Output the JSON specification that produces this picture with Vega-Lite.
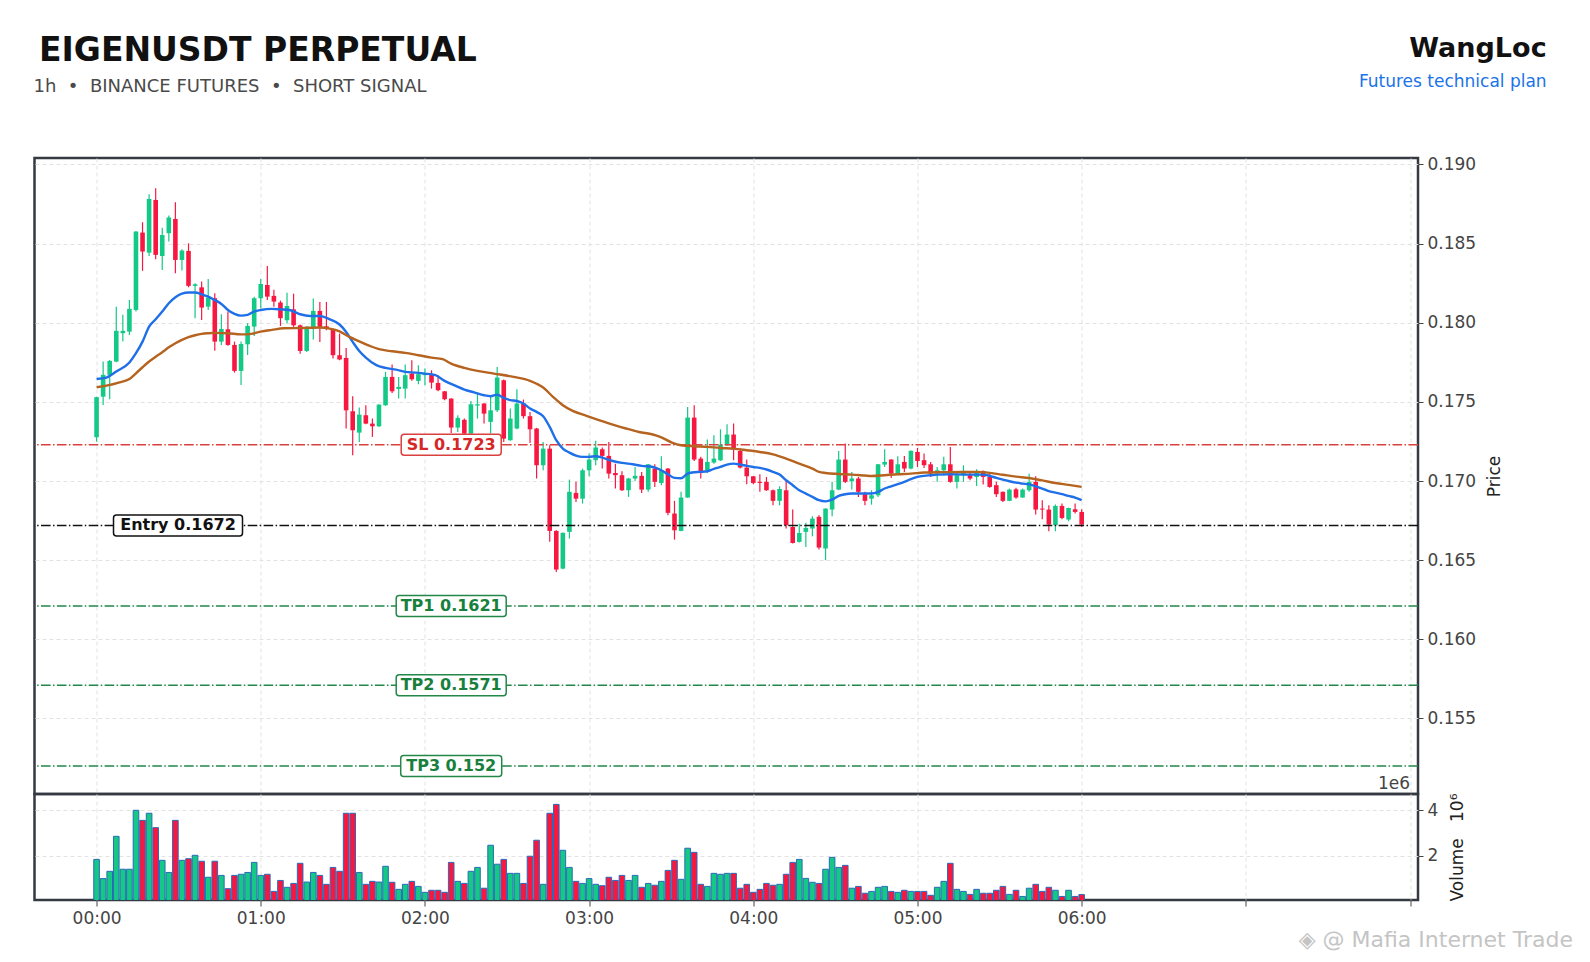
{
  "$schema": "https://vega.github.io/schema/vega-lite/v6.json",
  "background": "white",
  "padding": {"left": 31.5, "top": 33, "right": 5, "bottom": 5},
  "spacing": 0,
  "bounds": "flush",
  "config": {
    "font": "DejaVu Sans",
    "view": {"stroke": "#353a42", "strokeWidth": 2.5},
    "axis": {
      "domain": false,
      "labelFont": "DejaVu Sans",
      "labelFontSize": 17,
      "labelColor": "#444444",
      "titleFont": "DejaVu Sans",
      "titleFontSize": 17,
      "titleFontWeight": "normal",
      "titleColor": "#222222",
      "gridColor": "#e2e2e2",
      "gridDash": [4, 3],
      "tickColor": "#444444",
      "tickWidth": 1
    },
    "text": {"font": "DejaVu Sans"}
  },
  "datasets": {
    "candles": [
      {"i":0,"open":0.17277,"high":0.17533,"low":0.17249,"close":0.1753,"volume":1850000},
      {"i":1,"open":0.17533,"high":0.17755,"low":0.17481,"close":0.17671,"volume":1010000},
      {"i":2,"open":0.17671,"high":0.17765,"low":0.17517,"close":0.17759,"volume":1330000},
      {"i":3,"open":0.17755,"high":0.18102,"low":0.1775,"close":0.17949,"volume":2860000},
      {"i":4,"open":0.17934,"high":0.1805,"low":0.17881,"close":0.17949,"volume":1420000},
      {"i":5,"open":0.17944,"high":0.18144,"low":0.17923,"close":0.18088,"volume":1420000},
      {"i":6,"open":0.18081,"high":0.1858,"low":0.18071,"close":0.18576,"volume":4000000},
      {"i":7,"open":0.1857,"high":0.18635,"low":0.18328,"close":0.1845,"volume":3560000},
      {"i":8,"open":0.18443,"high":0.18812,"low":0.18422,"close":0.18782,"volume":3870000},
      {"i":9,"open":0.18776,"high":0.1885,"low":0.18401,"close":0.18429,"volume":3240000},
      {"i":10,"open":0.18422,"high":0.18601,"low":0.18334,"close":0.18555,"volume":1810000},
      {"i":11,"open":0.18566,"high":0.18677,"low":0.18513,"close":0.18665,"volume":1280000},
      {"i":12,"open":0.18656,"high":0.18761,"low":0.18313,"close":0.18397,"volume":3560000},
      {"i":13,"open":0.18397,"high":0.18464,"low":0.1833,"close":0.18456,"volume":1810000},
      {"i":14,"open":0.18454,"high":0.18502,"low":0.18224,"close":0.18233,"volume":1880000},
      {"i":15,"open":0.18233,"high":0.18249,"low":0.18029,"close":0.18243,"volume":2030000},
      {"i":16,"open":0.18224,"high":0.1826,"low":0.18018,"close":0.18096,"volume":1770000},
      {"i":17,"open":0.18102,"high":0.18277,"low":0.18081,"close":0.18159,"volume":1070000},
      {"i":18,"open":0.18155,"high":0.18187,"low":0.17824,"close":0.17881,"volume":1770000},
      {"i":19,"open":0.17881,"high":0.18054,"low":0.1786,"close":0.17961,"volume":1150000},
      {"i":20,"open":0.17959,"high":0.18071,"low":0.17855,"close":0.1786,"volume":570000},
      {"i":21,"open":0.1786,"high":0.17881,"low":0.17685,"close":0.17696,"volume":1150000},
      {"i":22,"open":0.17696,"high":0.17881,"low":0.17607,"close":0.17866,"volume":1200000},
      {"i":23,"open":0.17864,"high":0.17997,"low":0.17797,"close":0.1798,"volume":1280000},
      {"i":24,"open":0.17976,"high":0.18165,"low":0.17917,"close":0.18155,"volume":1720000},
      {"i":25,"open":0.18155,"high":0.18277,"low":0.18092,"close":0.18245,"volume":1150000},
      {"i":26,"open":0.18239,"high":0.18359,"low":0.18144,"close":0.18165,"volume":1200000},
      {"i":27,"open":0.1817,"high":0.18208,"low":0.18102,"close":0.18134,"volume":450000},
      {"i":28,"open":0.18128,"high":0.1814,"low":0.1798,"close":0.18029,"volume":930000},
      {"i":29,"open":0.18016,"high":0.18189,"low":0.17995,"close":0.18106,"volume":630000},
      {"i":30,"open":0.18085,"high":0.18184,"low":0.17974,"close":0.17984,"volume":800000},
      {"i":31,"open":0.17984,"high":0.17989,"low":0.17805,"close":0.17822,"volume":1680000},
      {"i":32,"open":0.17822,"high":0.17978,"low":0.17816,"close":0.17974,"volume":860000},
      {"i":33,"open":0.17974,"high":0.18153,"low":0.17894,"close":0.18075,"volume":1280000},
      {"i":34,"open":0.18075,"high":0.18132,"low":0.17879,"close":0.17974,"volume":1150000},
      {"i":35,"open":0.17978,"high":0.18132,"low":0.17953,"close":0.17963,"volume":760000},
      {"i":36,"open":0.17957,"high":0.17963,"low":0.17774,"close":0.17795,"volume":1500000},
      {"i":37,"open":0.17795,"high":0.17932,"low":0.17763,"close":0.17768,"volume":1330000},
      {"i":38,"open":0.17778,"high":0.17841,"low":0.17332,"close":0.17447,"volume":3870000},
      {"i":39,"open":0.17441,"high":0.17536,"low":0.17163,"close":0.17321,"volume":3870000},
      {"i":40,"open":0.17306,"high":0.17464,"low":0.17247,"close":0.1742,"volume":1280000},
      {"i":41,"open":0.17416,"high":0.17479,"low":0.17359,"close":0.17363,"volume":760000},
      {"i":42,"open":0.17363,"high":0.17395,"low":0.17279,"close":0.17346,"volume":890000},
      {"i":43,"open":0.17346,"high":0.17485,"low":0.17342,"close":0.17483,"volume":860000},
      {"i":44,"open":0.17479,"high":0.1769,"low":0.17475,"close":0.17658,"volume":1550000},
      {"i":45,"open":0.17658,"high":0.17736,"low":0.17557,"close":0.17567,"volume":850000},
      {"i":46,"open":0.17582,"high":0.17658,"low":0.17521,"close":0.17595,"volume":540000},
      {"i":47,"open":0.17584,"high":0.17736,"low":0.17521,"close":0.17669,"volume":760000},
      {"i":48,"open":0.17679,"high":0.17763,"low":0.17633,"close":0.17643,"volume":890000},
      {"i":49,"open":0.17633,"high":0.17731,"low":0.17612,"close":0.17675,"volume":670000},
      {"i":50,"open":0.17669,"high":0.17711,"low":0.17605,"close":0.17677,"volume":410000},
      {"i":51,"open":0.17673,"high":0.177,"low":0.17584,"close":0.17622,"volume":500000},
      {"i":52,"open":0.1762,"high":0.17669,"low":0.17567,"close":0.17574,"volume":500000},
      {"i":53,"open":0.17567,"high":0.17569,"low":0.1751,"close":0.17517,"volume":410000},
      {"i":54,"open":0.17521,"high":0.17523,"low":0.17304,"close":0.17338,"volume":1720000},
      {"i":55,"open":0.17338,"high":0.17416,"low":0.1731,"close":0.17399,"volume":890000},
      {"i":56,"open":0.17387,"high":0.17395,"low":0.1726,"close":0.173,"volume":800000},
      {"i":57,"open":0.173,"high":0.17506,"low":0.1726,"close":0.17485,"volume":1330000},
      {"i":58,"open":0.17477,"high":0.17553,"low":0.17395,"close":0.17485,"volume":1500000},
      {"i":59,"open":0.1749,"high":0.17492,"low":0.17363,"close":0.17426,"volume":590000},
      {"i":60,"open":0.17374,"high":0.17532,"low":0.173,"close":0.17447,"volume":2470000},
      {"i":61,"open":0.17447,"high":0.17721,"low":0.17437,"close":0.17654,"volume":1640000},
      {"i":62,"open":0.17637,"high":0.17641,"low":0.17247,"close":0.17268,"volume":1850000},
      {"i":63,"open":0.17258,"high":0.17458,"low":0.17254,"close":0.17395,"volume":1240000},
      {"i":64,"open":0.17332,"high":0.1758,"low":0.17327,"close":0.1749,"volume":1240000},
      {"i":65,"open":0.1749,"high":0.17515,"low":0.17395,"close":0.1741,"volume":800000},
      {"i":66,"open":0.1741,"high":0.17437,"low":0.17241,"close":0.17327,"volume":1990000},
      {"i":67,"open":0.17332,"high":0.17336,"low":0.17016,"close":0.171,"volume":2690000},
      {"i":68,"open":0.171,"high":0.17247,"low":0.17068,"close":0.17205,"volume":760000},
      {"i":69,"open":0.17205,"high":0.17226,"low":0.16616,"close":0.16685,"volume":3870000},
      {"i":70,"open":0.16685,"high":0.16689,"low":0.16426,"close":0.16441,"volume":4260000},
      {"i":71,"open":0.16447,"high":0.16675,"low":0.16443,"close":0.16673,"volume":2250000},
      {"i":72,"open":0.16679,"high":0.17009,"low":0.16637,"close":0.16932,"volume":1500000},
      {"i":73,"open":0.16925,"high":0.16995,"low":0.16868,"close":0.16889,"volume":890000},
      {"i":74,"open":0.16889,"high":0.17079,"low":0.16858,"close":0.17068,"volume":800000},
      {"i":75,"open":0.17068,"high":0.17174,"low":0.1703,"close":0.17136,"volume":1010000},
      {"i":76,"open":0.17132,"high":0.17254,"low":0.171,"close":0.17212,"volume":760000},
      {"i":77,"open":0.17201,"high":0.17212,"low":0.17079,"close":0.17159,"volume":700000},
      {"i":78,"open":0.17159,"high":0.17247,"low":0.17016,"close":0.17047,"volume":1070000},
      {"i":79,"open":0.17051,"high":0.1711,"low":0.16953,"close":0.17037,"volume":930000},
      {"i":80,"open":0.17037,"high":0.17062,"low":0.16937,"close":0.16942,"volume":1150000},
      {"i":81,"open":0.16942,"high":0.1702,"low":0.169,"close":0.17016,"volume":930000},
      {"i":82,"open":0.17016,"high":0.17089,"low":0.17001,"close":0.17033,"volume":1150000},
      {"i":83,"open":0.17033,"high":0.17058,"low":0.16925,"close":0.16946,"volume":630000},
      {"i":84,"open":0.16946,"high":0.17108,"low":0.16932,"close":0.17106,"volume":800000},
      {"i":85,"open":0.17079,"high":0.17106,"low":0.16963,"close":0.16995,"volume":720000},
      {"i":86,"open":0.16988,"high":0.17157,"low":0.16974,"close":0.17068,"volume":890000},
      {"i":87,"open":0.17079,"high":0.17083,"low":0.16784,"close":0.16799,"volume":1370000},
      {"i":88,"open":0.16795,"high":0.16875,"low":0.1663,"close":0.16689,"volume":1810000},
      {"i":89,"open":0.16685,"high":0.16932,"low":0.16683,"close":0.16896,"volume":980000},
      {"i":90,"open":0.16896,"high":0.17468,"low":0.16894,"close":0.17401,"volume":2340000},
      {"i":91,"open":0.17401,"high":0.17479,"low":0.17127,"close":0.17136,"volume":2160000},
      {"i":92,"open":0.17142,"high":0.17153,"low":0.17016,"close":0.17058,"volume":760000},
      {"i":93,"open":0.17068,"high":0.17262,"low":0.17051,"close":0.17121,"volume":670000},
      {"i":94,"open":0.17117,"high":0.17289,"low":0.1711,"close":0.17142,"volume":1240000},
      {"i":95,"open":0.17131,"high":0.17327,"low":0.17127,"close":0.1723,"volume":1200000},
      {"i":96,"open":0.17226,"high":0.17359,"low":0.17224,"close":0.17294,"volume":1240000},
      {"i":97,"open":0.17294,"high":0.17363,"low":0.17131,"close":0.17199,"volume":1240000},
      {"i":98,"open":0.1719,"high":0.17205,"low":0.17079,"close":0.17085,"volume":590000},
      {"i":99,"open":0.17085,"high":0.17136,"low":0.1698,"close":0.1703,"volume":760000},
      {"i":100,"open":0.1703,"high":0.17032,"low":0.1698,"close":0.16988,"volume":410000},
      {"i":101,"open":0.16995,"high":0.17043,"low":0.16932,"close":0.16988,"volume":540000},
      {"i":102,"open":0.16995,"high":0.17026,"low":0.16938,"close":0.16942,"volume":800000},
      {"i":103,"open":0.16942,"high":0.16946,"low":0.16847,"close":0.16875,"volume":720000},
      {"i":104,"open":0.16875,"high":0.16967,"low":0.16847,"close":0.1695,"volume":760000},
      {"i":105,"open":0.16942,"high":0.17003,"low":0.167,"close":0.16721,"volume":1200000},
      {"i":106,"open":0.1671,"high":0.1682,"low":0.16605,"close":0.16609,"volume":1720000},
      {"i":107,"open":0.16616,"high":0.16731,"low":0.16612,"close":0.16672,"volume":1850000},
      {"i":108,"open":0.16679,"high":0.16736,"low":0.16584,"close":0.16704,"volume":1020000},
      {"i":109,"open":0.167,"high":0.16778,"low":0.16651,"close":0.16763,"volume":850000},
      {"i":110,"open":0.16774,"high":0.16784,"low":0.16567,"close":0.1658,"volume":800000},
      {"i":111,"open":0.16574,"high":0.16828,"low":0.165,"close":0.16826,"volume":1420000},
      {"i":112,"open":0.1682,"high":0.16995,"low":0.16778,"close":0.16942,"volume":1940000},
      {"i":113,"open":0.16946,"high":0.1719,"low":0.16942,"close":0.17136,"volume":1500000},
      {"i":114,"open":0.17136,"high":0.17237,"low":0.16988,"close":0.16995,"volume":1590000},
      {"i":115,"open":0.16999,"high":0.17058,"low":0.16946,"close":0.17016,"volume":590000},
      {"i":116,"open":0.17016,"high":0.17026,"low":0.169,"close":0.16932,"volume":670000},
      {"i":117,"open":0.16917,"high":0.16932,"low":0.16847,"close":0.16875,"volume":370000},
      {"i":118,"open":0.16889,"high":0.16942,"low":0.16851,"close":0.1691,"volume":450000},
      {"i":119,"open":0.1691,"high":0.17108,"low":0.169,"close":0.17106,"volume":630000},
      {"i":120,"open":0.17104,"high":0.17201,"low":0.17089,"close":0.17121,"volume":670000},
      {"i":121,"open":0.17136,"high":0.17138,"low":0.1702,"close":0.17047,"volume":450000},
      {"i":122,"open":0.17047,"high":0.17157,"low":0.17037,"close":0.17106,"volume":410000},
      {"i":123,"open":0.17121,"high":0.17159,"low":0.17058,"close":0.17079,"volume":500000},
      {"i":124,"open":0.17079,"high":0.17193,"low":0.17075,"close":0.17191,"volume":450000},
      {"i":125,"open":0.17184,"high":0.17209,"low":0.17089,"close":0.17127,"volume":450000},
      {"i":126,"open":0.17132,"high":0.17174,"low":0.17083,"close":0.171,"volume":450000},
      {"i":127,"open":0.17106,"high":0.17121,"low":0.17026,"close":0.17047,"volume":280000},
      {"i":128,"open":0.17047,"high":0.17089,"low":0.16995,"close":0.17068,"volume":630000},
      {"i":129,"open":0.17068,"high":0.17153,"low":0.17037,"close":0.17106,"volume":890000},
      {"i":130,"open":0.17106,"high":0.17216,"low":0.1699,"close":0.16995,"volume":1680000},
      {"i":131,"open":0.16995,"high":0.17054,"low":0.16953,"close":0.17037,"volume":540000},
      {"i":132,"open":0.17037,"high":0.171,"low":0.16995,"close":0.17064,"volume":450000},
      {"i":133,"open":0.17037,"high":0.17058,"low":0.17005,"close":0.17016,"volume":320000},
      {"i":134,"open":0.17026,"high":0.17075,"low":0.16969,"close":0.17064,"volume":540000},
      {"i":135,"open":0.17064,"high":0.17066,"low":0.16978,"close":0.17026,"volume":370000},
      {"i":136,"open":0.17026,"high":0.17058,"low":0.16957,"close":0.16963,"volume":370000},
      {"i":137,"open":0.16974,"high":0.16995,"low":0.169,"close":0.16917,"volume":500000},
      {"i":138,"open":0.16932,"high":0.16934,"low":0.16868,"close":0.16875,"volume":670000},
      {"i":139,"open":0.16875,"high":0.16953,"low":0.16873,"close":0.16946,"volume":320000},
      {"i":140,"open":0.16948,"high":0.16957,"low":0.16889,"close":0.16896,"volume":500000},
      {"i":141,"open":0.16896,"high":0.16953,"low":0.16894,"close":0.16946,"volume":230000},
      {"i":142,"open":0.16942,"high":0.17047,"low":0.16932,"close":0.16995,"volume":590000},
      {"i":143,"open":0.16995,"high":0.1703,"low":0.16788,"close":0.1682,"volume":760000},
      {"i":144,"open":0.16826,"high":0.16879,"low":0.16759,"close":0.1682,"volume":450000},
      {"i":145,"open":0.1682,"high":0.16847,"low":0.16683,"close":0.16725,"volume":630000},
      {"i":146,"open":0.16721,"high":0.16852,"low":0.16683,"close":0.16843,"volume":500000},
      {"i":147,"open":0.16843,"high":0.16858,"low":0.16759,"close":0.16767,"volume":230000},
      {"i":148,"open":0.16757,"high":0.16832,"low":0.16746,"close":0.1683,"volume":500000},
      {"i":149,"open":0.16822,"high":0.16858,"low":0.16795,"close":0.16805,"volume":230000},
      {"i":150,"open":0.16805,"high":0.16822,"low":0.1671,"close":0.16725,"volume":310000}
    ],
    "fast": [
      {"i":0,"ma":0.17645},{"i":1.5,"ma":0.17654},{"i":3,"ma":0.17692},{"i":5,"ma":0.17749},{"i":6,"ma":0.17808},
      {"i":7,"ma":0.17881},{"i":8,"ma":0.17976},{"i":9,"ma":0.18022},{"i":10,"ma":0.18071},{"i":11,"ma":0.18123},
      {"i":12,"ma":0.18161},{"i":13,"ma":0.18184},{"i":14,"ma":0.18191},{"i":15,"ma":0.18191},{"i":16,"ma":0.1818},
      {"i":17,"ma":0.18165},{"i":18,"ma":0.18144},{"i":19,"ma":0.18119},{"i":20,"ma":0.18081},{"i":21,"ma":0.18056},
      {"i":22,"ma":0.18045},{"i":23,"ma":0.1805},{"i":24,"ma":0.18071},{"i":25,"ma":0.18081},{"i":26.7,"ma":0.18088},
      {"i":28,"ma":0.18085},{"i":29.5,"ma":0.18079},{"i":31,"ma":0.18054},{"i":32.5,"ma":0.18043},{"i":34,"ma":0.18043},
      {"i":35.5,"ma":0.18022},{"i":37,"ma":0.17989},{"i":38,"ma":0.17942},{"i":39,"ma":0.17879},{"i":40,"ma":0.17822},
      {"i":41,"ma":0.1778},{"i":42.6,"ma":0.17732},{"i":44,"ma":0.17715},{"i":45.6,"ma":0.17704},{"i":47,"ma":0.1769},
      {"i":48.6,"ma":0.17685},{"i":50,"ma":0.17679},{"i":51.6,"ma":0.17669},{"i":53,"ma":0.17633},{"i":54.7,"ma":0.17601},
      {"i":56,"ma":0.17578},{"i":57.5,"ma":0.1756},{"i":59,"ma":0.17542},{"i":60,"ma":0.17536},{"i":61,"ma":0.17546},
      {"i":62,"ma":0.17525},{"i":63,"ma":0.17511},{"i":64,"ma":0.17506},{"i":65,"ma":0.1749},{"i":66,"ma":0.17458},
      {"i":67,"ma":0.17437},{"i":68,"ma":0.1741},{"i":69,"ma":0.17342},{"i":70,"ma":0.17258},{"i":71,"ma":0.17205},
      {"i":72,"ma":0.1718},{"i":73,"ma":0.17161},{"i":74,"ma":0.17153},{"i":75,"ma":0.17153},{"i":76,"ma":0.17157},
      {"i":77,"ma":0.17148},{"i":78.6,"ma":0.17127},{"i":80,"ma":0.17115},{"i":81.6,"ma":0.17106},{"i":83,"ma":0.17096},
      {"i":84.7,"ma":0.17089},{"i":86,"ma":0.17068},{"i":87,"ma":0.17043},{"i":88,"ma":0.1702},{"i":89,"ma":0.17018},
      {"i":90,"ma":0.17047},{"i":91,"ma":0.17056},{"i":92,"ma":0.17058},{"i":93,"ma":0.17062},{"i":94,"ma":0.17077},
      {"i":95,"ma":0.17089},{"i":96,"ma":0.17104},{"i":97,"ma":0.1711},{"i":98,"ma":0.17104},{"i":99,"ma":0.17096},
      {"i":100,"ma":0.17089},{"i":101,"ma":0.17083},{"i":102,"ma":0.17073},{"i":103,"ma":0.17058},{"i":104,"ma":0.17041},
      {"i":105,"ma":0.17005},{"i":106,"ma":0.16974},{"i":107,"ma":0.16942},{"i":108,"ma":0.16921},{"i":109,"ma":0.169},
      {"i":110,"ma":0.16879},{"i":111,"ma":0.16872},{"i":112,"ma":0.16883},{"i":113,"ma":0.16906},{"i":114,"ma":0.16917},
      {"i":115,"ma":0.16921},{"i":117,"ma":0.16921},{"i":118,"ma":0.16921},{"i":119,"ma":0.16931},{"i":120,"ma":0.16953},
      {"i":121,"ma":0.16967},{"i":122,"ma":0.1698},{"i":123,"ma":0.16995},{"i":124,"ma":0.17012},{"i":125,"ma":0.17026},
      {"i":126,"ma":0.17033},{"i":127,"ma":0.17037},{"i":128,"ma":0.17041},{"i":130,"ma":0.17043},{"i":132,"ma":0.17041},
      {"i":135,"ma":0.17041},{"i":136,"ma":0.17033},{"i":137,"ma":0.1702},{"i":138,"ma":0.17009},{"i":139,"ma":0.16999},
      {"i":140,"ma":0.1699},{"i":141,"ma":0.16984},{"i":142,"ma":0.16979},{"i":143,"ma":0.16967},{"i":144,"ma":0.16953},
      {"i":145,"ma":0.16936},{"i":146,"ma":0.16927},{"i":147,"ma":0.16917},{"i":148,"ma":0.16906},{"i":149,"ma":0.16896},
      {"i":150,"ma":0.16879}
    ],
    "slow": [
      {"i":0,"ma":0.17593},{"i":1.5,"ma":0.17603},{"i":3.5,"ma":0.17624},{"i":5,"ma":0.17645},{"i":6,"ma":0.17681},
      {"i":7,"ma":0.17719},{"i":8,"ma":0.17755},{"i":9,"ma":0.17786},{"i":10,"ma":0.17814},{"i":11,"ma":0.17845},
      {"i":12,"ma":0.17871},{"i":13,"ma":0.17892},{"i":14,"ma":0.17909},{"i":15,"ma":0.17921},{"i":16,"ma":0.1793},
      {"i":17,"ma":0.17934},{"i":18,"ma":0.17936},{"i":20,"ma":0.17934},{"i":22,"ma":0.17927},{"i":23,"ma":0.17927},
      {"i":24,"ma":0.17934},{"i":25,"ma":0.17944},{"i":26.7,"ma":0.17955},{"i":28.5,"ma":0.17965},{"i":31,"ma":0.17967},
      {"i":34,"ma":0.1797},{"i":35.5,"ma":0.17963},{"i":37,"ma":0.17946},{"i":38.5,"ma":0.17911},{"i":40,"ma":0.17883},
      {"i":41.6,"ma":0.17854},{"i":43,"ma":0.17833},{"i":45,"ma":0.1782},{"i":47,"ma":0.1781},{"i":49,"ma":0.17795},
      {"i":51,"ma":0.1778},{"i":52.7,"ma":0.1777},{"i":54,"ma":0.17742},{"i":56,"ma":0.17715},{"i":58,"ma":0.17696},
      {"i":60.5,"ma":0.17679},{"i":63.5,"ma":0.17658},{"i":66,"ma":0.17633},{"i":68,"ma":0.17591},{"i":69.5,"ma":0.17532},
      {"i":71,"ma":0.17479},{"i":72.5,"ma":0.17443},{"i":74.6,"ma":0.17412},{"i":76.6,"ma":0.17384},{"i":78.6,"ma":0.17357},
      {"i":80.6,"ma":0.17332},{"i":82.6,"ma":0.1731},{"i":84.7,"ma":0.17294},{"i":86,"ma":0.17276},{"i":87.6,"ma":0.17243},
      {"i":89,"ma":0.17226},{"i":91,"ma":0.1722},{"i":93,"ma":0.17216},{"i":95,"ma":0.17209},{"i":97,"ma":0.17205},
      {"i":99,"ma":0.17195},{"i":101,"ma":0.17184},{"i":103,"ma":0.17169},{"i":105,"ma":0.17142},{"i":107,"ma":0.1711},
      {"i":109,"ma":0.17079},{"i":110,"ma":0.17058},{"i":111,"ma":0.17051},{"i":113,"ma":0.17045},{"i":115,"ma":0.17041},
      {"i":117,"ma":0.17035},{"i":118,"ma":0.17032},{"i":120,"ma":0.17037},{"i":122,"ma":0.17043},{"i":124,"ma":0.17047},
      {"i":126,"ma":0.17054},{"i":128,"ma":0.17056},{"i":132,"ma":0.17057},{"i":134,"ma":0.17058},{"i":136,"ma":0.17052},
      {"i":138,"ma":0.1704},{"i":140,"ma":0.17028},{"i":142,"ma":0.17019},{"i":144,"ma":0.17004},{"i":146,"ma":0.16988},
      {"i":148,"ma":0.16976},{"i":150,"ma":0.16963}
    ],
    "levels": [
      {"name":"SL","label":"SL 0.1723","price":0.1723},
      {"name":"Entry","label":"Entry 0.1672","price":0.1672},
      {"name":"TP1","label":"TP1 0.1621","price":0.1621},
      {"name":"TP2","label":"TP2 0.1571","price":0.1571},
      {"name":"TP3","label":"TP3 0.152","price":0.152}
    ]
  },
  "vconcat": [
    {
      "width": 1383.5,
      "height": 636,
      "layer": [
        {
          "data": {"name": "candles"},
          "mark": {"type": "rule", "strokeWidth": 1.2},
          "encoding": {
            "x": {"field": "i", "type": "quantitative", "title": null,
                  "scale": {"domain": [-8.69, 200.45], "nice": false, "zero": false},
                  "axis": {"orient": "bottom", "values": [0,25,50,75,100,125,150,175,200], "labels": false, "ticks": false, "grid": true}},
            "y": {"field": "low", "type": "quantitative", "title": "Price",
                  "scale": {"domain": [0.15023, 0.19041], "nice": false, "zero": false},
                  "axis": {"orient": "right", "values": [0.155,0.16,0.165,0.17,0.175,0.18,0.185,0.19], "format": ".3f",
                           "tickSize": 5, "labelPadding": 4, "grid": true, "titleAngle": 270, "titleBaseline": "top", "titlePadding": 11}},
            "y2": {"field": "high"},
            "color": {"condition": {"test": "datum.close >= datum.open", "value": "#14c886"}, "value": "#f71842"}
          }
        },
        {
          "data": {"name": "candles"},
          "mark": {"type": "bar", "width": 4.6},
          "encoding": {
            "x": {"field": "i", "type": "quantitative", "title": null},
            "y": {"field": "open", "type": "quantitative", "title": "Price"},
            "y2": {"field": "close"},
            "color": {"condition": {"test": "datum.close >= datum.open", "value": "#14c886"}, "value": "#f71842"}
          }
        },
        {
          "data": {"name": "levels"},
          "mark": {"type": "rule", "strokeWidth": 1.5, "strokeDash": [9.6, 2.4, 1.5, 2.4]},
          "encoding": {
            "y": {"field": "price", "type": "quantitative", "title": "Price"},
            "color": {"condition": [
              {"test": "datum.name == 'SL'", "value": "#d9413e"},
              {"test": "datum.name == 'Entry'", "value": "#111111"}
            ], "value": "#23874a"}
          }
        },
        {
          "data": {"name": "fast"},
          "mark": {"type": "line", "strokeWidth": 2.4, "color": "#1f6fe8", "interpolate": "monotone"},
          "encoding": {
            "x": {"field": "i", "type": "quantitative", "title": null},
            "y": {"field": "ma", "type": "quantitative", "title": "Price"}
          }
        },
        {
          "data": {"name": "slow"},
          "mark": {"type": "line", "strokeWidth": 2.4, "color": "#b5631f", "interpolate": "monotone"},
          "encoding": {
            "x": {"field": "i", "type": "quantitative", "title": null},
            "y": {"field": "ma", "type": "quantitative", "title": "Price"}
          }
        },
        {
          "data": {"name": "levels"},
          "transform": [{"filter": "datum.name == 'Entry'"}],
          "mark": {"type": "point", "size": 10000, "fill": "white", "fillOpacity": 1, "opacity": 1, "strokeWidth": 1.5,
                   "shape": "M-1.23,-0.21L1.23,-0.21Q1.29,-0.21,1.29,-0.15L1.29,0.15Q1.29,0.21,1.23,0.21L-1.23,0.21Q-1.29,0.21,-1.29,0.15L-1.29,-0.15Q-1.29,-0.21,-1.23,-0.21Z"},
          "encoding": {
            "x": {"datum": 12.4},
            "y": {"field": "price", "type": "quantitative", "title": "Price"},
            "stroke": {"value": "#111111"}
          }
        },
        {
          "data": {"name": "levels"},
          "transform": [{"filter": "datum.name != 'Entry'"}],
          "mark": {"type": "point", "size": 10000, "fill": "white", "fillOpacity": 1, "opacity": 1, "strokeWidth": 1.5},
          "encoding": {
            "x": {"datum": 54},
            "y": {"field": "price", "type": "quantitative", "title": "Price"},
            "shape": {"condition": [
              {"test": "datum.name == 'SL'", "value": "M-0.94,-0.21L0.94,-0.21Q1,-0.21,1,-0.15L1,0.15Q1,0.21,0.94,0.21L-0.94,0.21Q-1,0.21,-1,0.15L-1,-0.15Q-1,-0.21,-0.94,-0.21Z"},
              {"test": "datum.name == 'TP3'", "value": "M-0.95,-0.21L0.95,-0.21Q1.01,-0.21,1.01,-0.15L1.01,0.15Q1.01,0.21,0.95,0.21L-0.95,0.21Q-1.01,0.21,-1.01,0.15L-1.01,-0.15Q-1.01,-0.21,-0.95,-0.21Z"}
            ], "value": "M-1.04,-0.21L1.04,-0.21Q1.1,-0.21,1.1,-0.15L1.1,0.15Q1.1,0.21,1.04,0.21L-1.04,0.21Q-1.1,0.21,-1.1,0.15L-1.1,-0.15Q-1.1,-0.21,-1.04,-0.21Z"},
            "stroke": {"condition": {"test": "datum.name == 'SL'", "value": "#d9413e"}, "value": "#23874a"}
          }
        },
        {
          "data": {"name": "levels"},
          "transform": [{"filter": "datum.name == 'Entry'"}],
          "mark": {"type": "text", "fontSize": 16, "fontWeight": "bold", "align": "center", "baseline": "middle", "color": "#111111"},
          "encoding": {
            "x": {"datum": 12.4},
            "y": {"field": "price", "type": "quantitative", "title": "Price"},
            "text": {"field": "label"}
          }
        },
        {
          "data": {"name": "levels"},
          "transform": [{"filter": "datum.name != 'Entry'"}],
          "mark": {"type": "text", "fontSize": 16, "fontWeight": "bold", "align": "center", "baseline": "middle"},
          "encoding": {
            "x": {"datum": 54},
            "y": {"field": "price", "type": "quantitative", "title": "Price"},
            "text": {"field": "label"},
            "color": {"condition": {"test": "datum.name == 'SL'", "value": "#d62728"}, "value": "#17803d"}
          }
        },
        {
          "data": {"values": [{}]},
          "mark": {"type": "text", "text": "EIGENUSDT PERPETUAL", "align": "left", "baseline": "alphabetic", "fontSize": 33, "fontWeight": "bold", "color": "#111111"},
          "encoding": {"x": {"datum": -8.77}, "y": {"datum": 0.19654}}
        },
        {
          "data": {"values": [{}]},
          "mark": {"type": "text", "text": "1h  \u00a0•\u00a0  BINANCE FUTURES  \u00a0•\u00a0  SHORT SIGNAL", "align": "left", "baseline": "alphabetic", "fontSize": 18, "color": "#4a4a4a"},
          "encoding": {"x": {"datum": -9.6}, "y": {"datum": 0.19456}}
        },
        {
          "data": {"values": [{}]},
          "mark": {"type": "text", "text": "WangLoc", "align": "right", "baseline": "alphabetic", "fontSize": 27, "fontWeight": "bold", "color": "#111111"},
          "encoding": {"x": {"datum": 220.8}, "y": {"datum": 0.19676}}
        },
        {
          "data": {"values": [{}]},
          "mark": {"type": "text", "text": "Futures technical plan", "align": "right", "baseline": "alphabetic", "fontSize": 17, "color": "#1a73e8"},
          "encoding": {"x": {"datum": 220.8}, "y": {"datum": 0.19492}}
        },
        {
          "data": {"values": [{}]},
          "mark": {"type": "text", "text": "1e6", "align": "right", "baseline": "alphabetic", "fontSize": 17, "color": "#444444"},
          "encoding": {"x": {"datum": 200}, "y": {"datum": 0.15055}}
        }
      ]
    },
    {
      "width": 1383.5,
      "height": 106,
      "layer": [
        {
          "data": {"name": "candles"},
          "mark": {"type": "bar", "width": 5.6, "stroke": "#2a6ab8", "strokeWidth": 1, "clip": true},
          "encoding": {
            "x": {"field": "i", "type": "quantitative", "title": null,
                  "scale": {"domain": [-8.69, 200.45], "nice": false, "zero": false},
                  "axis": {"orient": "bottom", "values": [0,25,50,75,100,125,150,175,200],
                           "labelExpr": "datum.value <= 150 ? '0' + (datum.value / 25) + ':00' : ''",
                           "tickSize": 6, "labelPadding": 4, "grid": true}},
            "y": {"field": "volume", "type": "quantitative", "title": "Volume \u00a0\u00a010⁶",
                  "scale": {"domain": [74000, 4713000], "nice": false, "zero": false},
                  "axis": {"orient": "right", "values": [2000000, 4000000], "labelExpr": "'' + (datum.value / 1000000)",
                           "tickSize": 5, "labelPadding": 4, "grid": true, "titleAngle": 270, "titleBaseline": "top", "titlePadding": 12}},
            "color": {"condition": {"test": "datum.close >= datum.open", "value": "#14c886"}, "value": "#f71842"}
          }
        },
        {
          "data": {"values": [{}]},
          "mark": {"type": "text", "text": "◈ @ Mafia Internet Trade", "align": "right", "baseline": "alphabetic", "fontSize": 22, "color": "#c4c4c4"},
          "encoding": {"x": {"datum": 224.8}, "y": {"datum": -1979000}}
        }
      ]
    }
  ]
}
